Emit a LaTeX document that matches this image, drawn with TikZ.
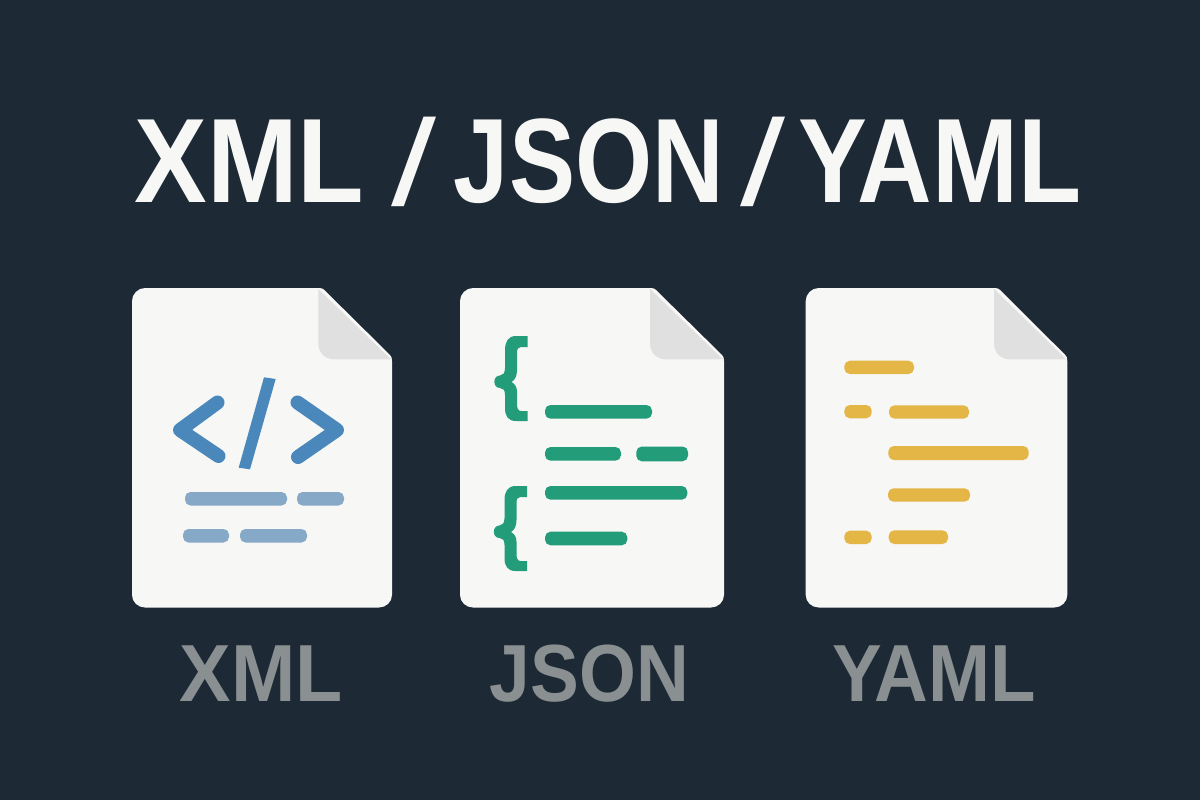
\documentclass[tikz,border=0pt]{standalone}
\usepackage{fontspec}
\setmainfont{Liberation Sans}
\definecolor{bgc}{HTML}{1D2935}
\definecolor{paper}{HTML}{F7F7F5}
\definecolor{foldc}{HTML}{DFE0DF}
\definecolor{blue1}{HTML}{4A87BA}
\definecolor{blue2}{HTML}{86A9C8}
\definecolor{green1}{HTML}{239C79}
\definecolor{yellow1}{HTML}{E3B646}
\definecolor{labelc}{HTML}{8A9091}
\tikzset{
  x=1pt,y=-1pt,
  titletxt/.style={text=paper,font=\fontsize{120}{120}\selectfont\bfseries,inner sep=0pt,anchor=base},
  slashtxt/.style={text=paper,font=\fontsize{122}{122}\selectfont,inner sep=0pt,anchor=base},
  labeltxt/.style={text=labelc,font=\fontsize{81}{81}\selectfont\bfseries,inner sep=0pt,anchor=base},
  brace/.style={fill=green1},
  chevron/.style={draw=blue1,line width=14pt,line cap=round,line join=round},
}
\newcommand{\fitw}[2]{\resizebox{#1pt}{\height}{#2}}
\newcommand{\docshape}[3]{%
  \pgfmathsetmacro{\ldoc}{#1}\pgfmathsetmacro{\rdoc}{#2}\pgfmathsetmacro{\fdoc}{#3}%
  \fill[paper] (\ldoc+13,288) -- (\fdoc,288) .. controls (\fdoc+3,288) and (\fdoc+4,289) .. (\fdoc+5,290)
    -- (\rdoc-2,355) .. controls (\rdoc-0.5,356.5) and (\rdoc,358) .. (\rdoc,361)
    -- (\rdoc,595) .. controls (\rdoc,602) and (\rdoc-6,607.5) .. (\rdoc-13,607.5)
    -- (\ldoc+13,607.5) .. controls (\ldoc+6,607.5) and (\ldoc,602) .. (\ldoc,595)
    -- (\ldoc,301) .. controls (\ldoc,294) and (\ldoc+6,288) .. (\ldoc+13,288) -- cycle;
  \fill[foldc] (\fdoc-1,289) -- (\rdoc-1,359.3) -- (\fdoc+15,359.3)
    .. controls (\fdoc+5,359.3) and (\fdoc-1,352) .. (\fdoc-1,343) -- cycle;}
\newcommand{\bracecurly}[2]{%
  \begin{scope}[shift={(#1,#2)}]
    \fill[brace] (33.5,0) -- (22,0) .. controls (14,0) and (11,6) .. (11,14) -- (11,32)
      .. controls (11,37) and (9,39.5) .. (6,39.5) .. controls (-1.5,39.5) and (-1.5,52) .. (6,52)
      .. controls (9,52) and (11,54) .. (11,59) -- (11,72) .. controls (11,80) and (14,85) .. (22,85) -- (33.5,85)
      -- (33.5,75) -- (27,75) .. controls (24,75) and (23,72) .. (23,68) -- (23,56)
      .. controls (23,51) and (21,48) .. (17.5,46) .. controls (21,44) and (23,40) .. (23,34)
      -- (23,17) .. controls (23,13) and (24,11) .. (27,11) -- (33.5,11) -- cycle;
  \end{scope}}
\newcommand{\barbox}[5]{\fill[#1,rounded corners=5.5pt] (#2,#3) rectangle (#4,#5);}
\begin{document}
\begin{tikzpicture}
\useasboundingbox (0,0) rectangle (1200,800);
\fill[bgc] (0,0) rectangle (1200,800);
% title
\node[titletxt] (t1) at (249.5,202) {\fitw{230}{XML}};
\node[slashtxt] (s1) at (413.5,205) {\fitw{45}{/}};
\node[titletxt] (t2) at (589,202) {\fitw{270}{JSON}};
\node[slashtxt] (s2) at (763,205) {\fitw{45}{/}};
\node[titletxt] (t3) at (939.5,202) {\fitw{283}{YAML}};
% documents
\docshape{132}{392}{319.3}
\docshape{460}{724}{651}
\docshape{805.7}{1067.3}{995}
% XML icon
\draw[chevron] (217.5,402.5) -- (180,430) -- (218.5,456);
\draw[chevron] (297.5,402.5) -- (337,430) -- (298,457);
\fill[blue1] (264,377.3) -- (275.7,379) -- (250,469.3) -- (238.7,467.7) -- cycle;
\barbox{blue2}{185}{492}{287}{505.5}
\barbox{blue2}{297}{492}{344}{505.5}
\barbox{blue2}{183}{529}{229}{542.5}
\barbox{blue2}{240}{529}{307}{542.5}
% JSON icon
\bracecurly{494}{336}
\bracecurly{493.5}{486}
\barbox{green1}{545}{405}{652}{418.7}
\barbox{green1}{545}{447}{621}{460.7}
\barbox{green1}{636.3}{446.5}{688}{461.3}
\barbox{green1}{545}{486}{687.3}{499.7}
\barbox{green1}{545}{531.7}{627.3}{545.3}
% YAML icon
\barbox{yellow1}{844.3}{360.7}{914}{374}
\barbox{yellow1}{844.3}{405}{871.7}{418.3}
\barbox{yellow1}{889}{405.3}{969}{418.7}
\barbox{yellow1}{888.3}{446}{1028.7}{460}
\barbox{yellow1}{888}{488.3}{970}{501.7}
\barbox{yellow1}{844.3}{530.7}{871.7}{544}
\barbox{yellow1}{888.7}{530.3}{948}{544}
% labels
\node[labeltxt] (l1) at (261.5,701) {\fitw{163}{XML}};
\node[labeltxt] (l2) at (589.5,701) {\fitw{199}{JSON}};
\node[labeltxt] (l3) at (934,701) {\fitw{204}{YAML}};
\end{tikzpicture}
\end{document}
